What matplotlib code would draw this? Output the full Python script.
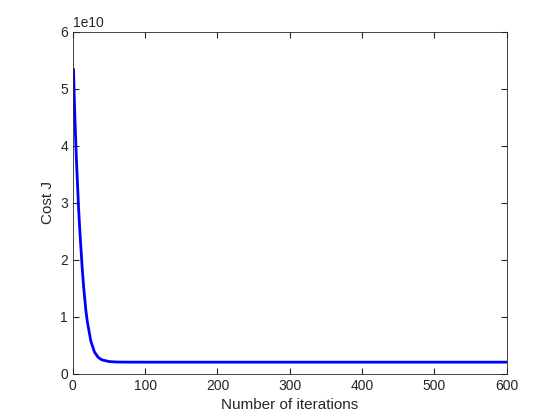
import matplotlib
matplotlib.use("Agg")
import matplotlib.pyplot as plt
import numpy as np

plt.rcParams['font.family'] = ['Liberation Sans', 'DejaVu Sans']

iterations = [1, 2, 3, 5, 8, 10, 13, 15, 18, 20, 25, 30, 35, 40, 50, 60, 70, 100, 200, 400, 600]
cost_e10 = [5.33, 4.85, 4.45, 3.75, 2.9, 2.45, 1.85, 1.52, 1.12, 0.92, 0.57, 0.38, 0.29, 0.245, 0.215, 0.207, 0.205, 0.204, 0.204, 0.204, 0.204]
cost = np.array(cost_e10) * 1e10

fig = plt.figure(figsize=(5.6, 4.2), dpi=100)
ax = fig.add_axes([0.13, 0.11, 0.775, 0.815])
ax.plot(iterations, cost, color=(0, 0, 1), linewidth=2)
ax.set_xlim(0, 600)
ax.set_ylim(0, 6e10)
ax.set_xticks(range(0, 601, 100))
ax.set_yticks(np.arange(0, 7e10, 1e10))
ax.tick_params(direction='in', top=True, right=True, labelsize=10, length=4, colors='#262626')
ax.set_xlabel('Number of iterations', fontsize=11, color='#262626')
ax.set_ylabel('Cost J', fontsize=11, color='#262626')
for s in ax.spines.values():
    s.set_color('#262626'); s.set_linewidth(0.6)
ax.yaxis.get_offset_text().set_fontsize(10)
fig.savefig('out.png', dpi=100)
